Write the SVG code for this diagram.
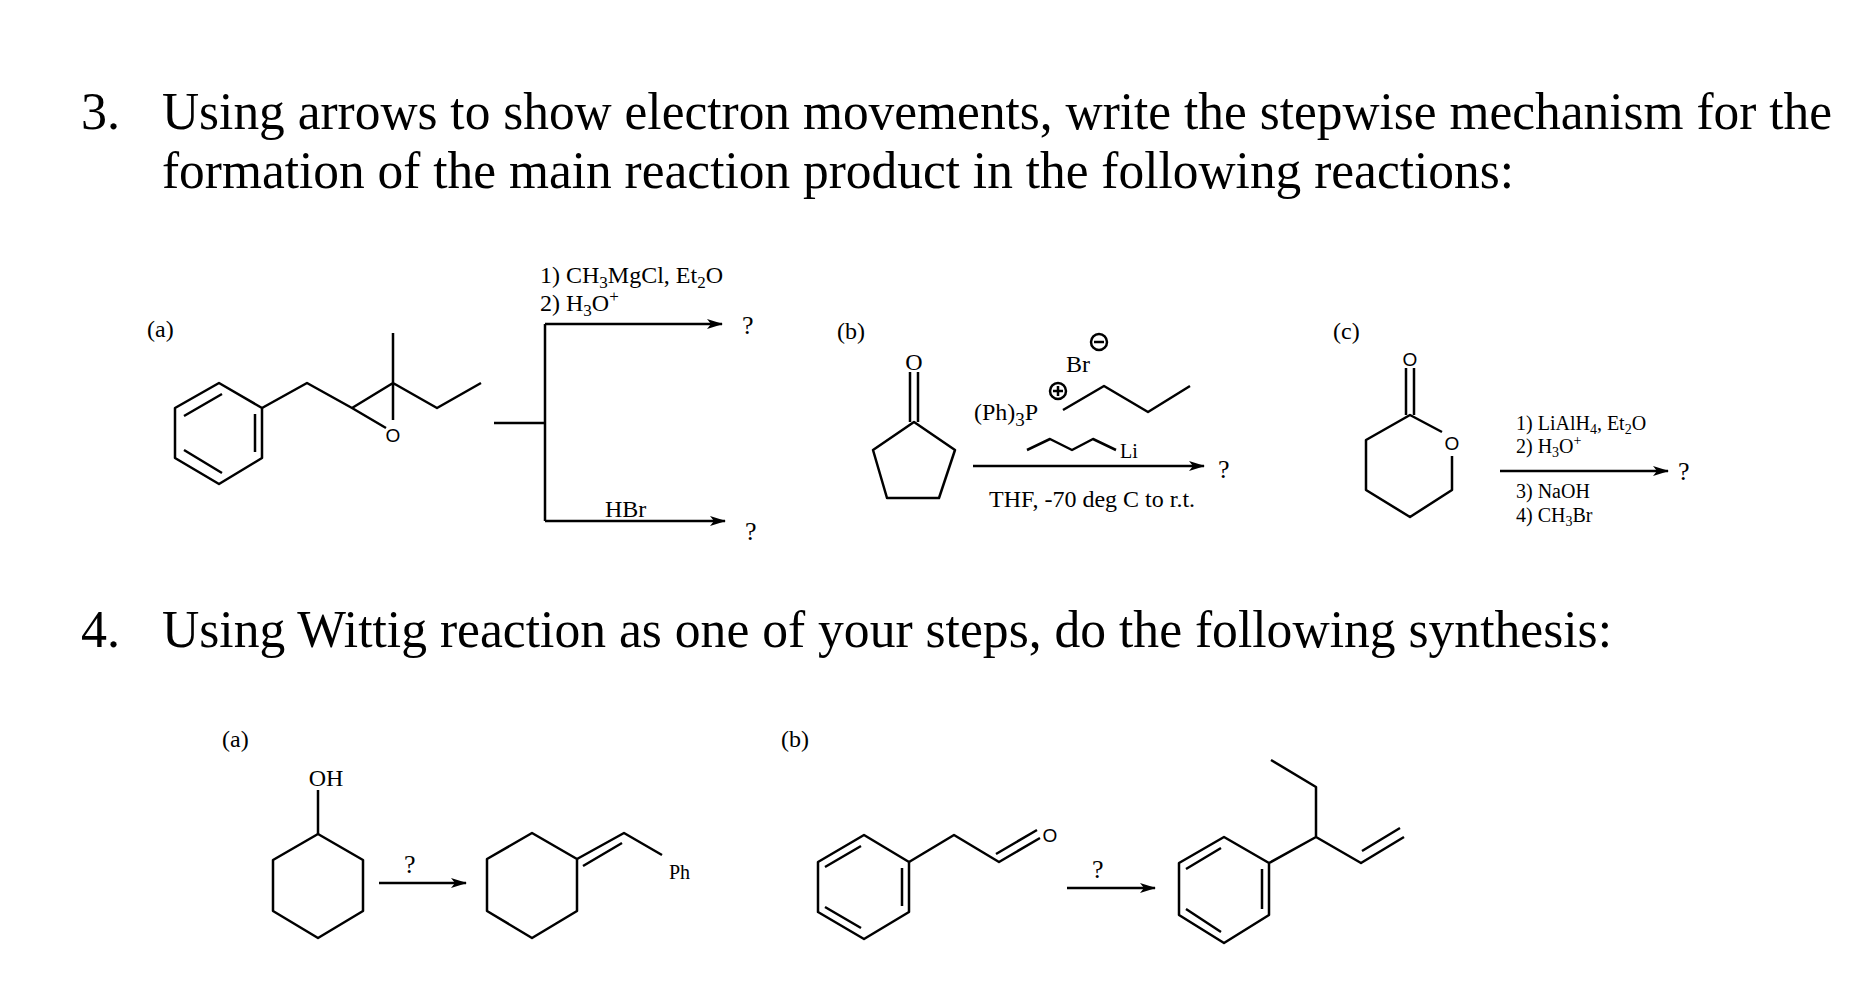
<svg xmlns="http://www.w3.org/2000/svg" width="1858" height="986" viewBox="0 0 1858 986">
<style>
text{font-family:"Liberation Serif","Times New Roman",serif;fill:#000}
.h{font-size:52px}
.l{font-size:24px}
.q{font-size:26px}
.s{font-size:20px}
.o{font-family:"Liberation Sans",Arial,sans-serif;font-size:19px}
.b{fill:none;stroke:#000;stroke-width:2.5;stroke-linejoin:round}
</style>
<defs><marker id="ah" markerWidth="16" markerHeight="10" refX="15" refY="5" orient="auto" markerUnits="userSpaceOnUse"><path d="M0,0L16,5L0,10L4,5Z" fill="#000"/></marker></defs>
<rect width="1858" height="986" fill="#fff"/>
<g id="title">
<text class="h" x="81" y="129">3.</text><text class="h" x="162" y="129" textLength="1670" lengthAdjust="spacingAndGlyphs">Using arrows to show electron movements, write the stepwise mechanism for the</text>
<text class="h" x="162" y="188" textLength="1352" lengthAdjust="spacingAndGlyphs">formation of the main reaction product in the following reactions:</text>
<text class="h" x="81" y="647">4.</text><text class="h" x="162" y="647" textLength="1450" lengthAdjust="spacingAndGlyphs">Using Wittig reaction as one of your steps, do the following synthesis:</text>
</g>
<g id="q3a">
<text class="l" x="147" y="337">(a)</text>
<polygon class="b" points="219,383 262,408 262,458 219,484 175,458 175,408"/>
<path class="b" d="M255,414V452M222,394L184,416M184,450L222,473"/>
<path class="b" d="M262,408L307,383L352,408L393,383L437,408L481,383M393,383V333M352,408L386,428M393,383V420"/>
<text class="o" x="393" y="442" text-anchor="middle">O</text>
</g>
<g id="q3b">
<text class="l" x="837" y="339">(b)</text>
<polygon class="b" points="914,422 955,450 939,498 887,498 873,450"/>
<path class="b" d="M910,422V372M918,422V372"/>
<text class="l" x="914" y="370" text-anchor="middle" font-size="21">O</text>
<text class="l" x="1078" y="372" text-anchor="middle" font-size="28">Br</text>
<circle class="b" cx="1099" cy="342" r="8" stroke-width="1.6"/><path class="b" d="M1094,342H1104" stroke-width="1.6"/>
<text class="l" x="974" y="420" font-size="28">(Ph)<tspan font-size="19" dy="6">3</tspan><tspan dy="-6">P</tspan></text>
<circle class="b" cx="1058" cy="391" r="8" stroke-width="1.6"/><path class="b" d="M1053,391H1063M1058,386V396" stroke-width="1.6"/>
<path class="b" d="M1063,410L1104,386L1148,412L1190,386"/>
<path class="b" d="M1027,450L1050,439L1072,450L1093,439L1116,450"/>
<text class="s" x="1120" y="458" font-size="18">Li</text>
<text class="l" x="989" y="507" font-size="23">THF, -70 deg C to r.t.</text>
<text class="q" x="1218" y="478">?</text>
</g>
<g id="q3c">
<text class="l" x="1333" y="339">(c)</text>
<path class="b" d="M1442,432L1410,415L1366,440V490L1410,517L1452,490V456"/>
<path class="b" d="M1406,415V368M1414,415V368"/>
<text class="o" x="1410" y="366" text-anchor="middle">O</text>
<text class="o" x="1452" y="450" text-anchor="middle">O</text>
<text class="s" x="1516" y="430">1) LiAlH<tspan font-size="14" dy="4">4</tspan><tspan dy="-4">, Et</tspan><tspan font-size="14" dy="4">2</tspan><tspan dy="-4">O</tspan></text>
<text class="s" x="1516" y="453">2) H<tspan font-size="14" dy="4">3</tspan><tspan dy="-4">O</tspan><tspan font-size="14" dy="-8">+</tspan></text>
<text class="s" x="1516" y="498">3) NaOH</text>
<text class="s" x="1516" y="522">4) CH<tspan font-size="14" dy="4">3</tspan><tspan dy="-4">Br</tspan></text>
<text class="q" x="1678" y="480">?</text>
</g>
<g id="q4a">
<text class="l" x="222" y="747">(a)</text>
<polygon class="b" points="318,834 363,860 363,911 318,938 273,911 273,860"/>
<path class="b" d="M318,834V790"/>
<text class="l" x="326" y="786" text-anchor="middle">OH</text>
<text class="q" x="404" y="873">?</text>
<polygon class="b" points="532,833 577,859 577,911 532,938 487,911 487,859"/>
<path class="b" d="M577,859L624,833L662,855M583,866L622,843"/>
<text class="s" x="669" y="879">Ph</text>
</g>
<g id="q4b">
<text class="l" x="781" y="747">(b)</text>
<polygon class="b" points="864,835 909,862 909,912 864,939 818,912 818,862"/>
<path class="b" d="M902,868V906M861,846L825,867M825,907L861,928"/>
<path class="b" d="M909,862L954,835L999,862L1040,838M996,854L1037,830"/>
<text class="o" x="1050" y="842" text-anchor="middle">O</text>
<text class="q" x="1092" y="878">?</text>
<polygon class="b" points="1224,837 1269,863 1269,915 1224,943 1179,915 1179,863"/>
<path class="b" d="M1262,869V909M1221,848L1186,869M1186,909L1221,932"/>
<path class="b" d="M1269,863L1316,837V787L1271,760M1316,837L1361,863L1404,837M1362,851L1400,828"/>
</g>
<g id="connectors" class="b">
<path class="b" d="M494,423H545M545,324V521"/>
<path class="b" d="M545,324H722" marker-end="url(#ah)"/>
<path class="b" d="M545,521H725" marker-end="url(#ah)"/>
<path class="b" d="M973,466H1204" marker-end="url(#ah)"/>
<path class="b" d="M1500,471H1668" marker-end="url(#ah)"/>
<path class="b" d="M379,883H466" marker-end="url(#ah)"/>
<path class="b" d="M1067,888H1155" marker-end="url(#ah)"/>
</g>
<g id="labels">
<text class="l" x="540" y="283">1) CH<tspan font-size="17" dy="5">3</tspan><tspan dy="-5">MgCl, Et</tspan><tspan font-size="17" dy="5">2</tspan><tspan dy="-5">O</tspan></text>
<text class="l" x="540" y="311">2) H<tspan font-size="17" dy="5">3</tspan><tspan dy="-5">O</tspan><tspan font-size="17" dy="-9">+</tspan></text>
<text class="q" x="742" y="334">?</text>
<text class="l" x="605" y="517">HBr</text>
<text class="q" x="745" y="540">?</text>
</g>
</svg>
